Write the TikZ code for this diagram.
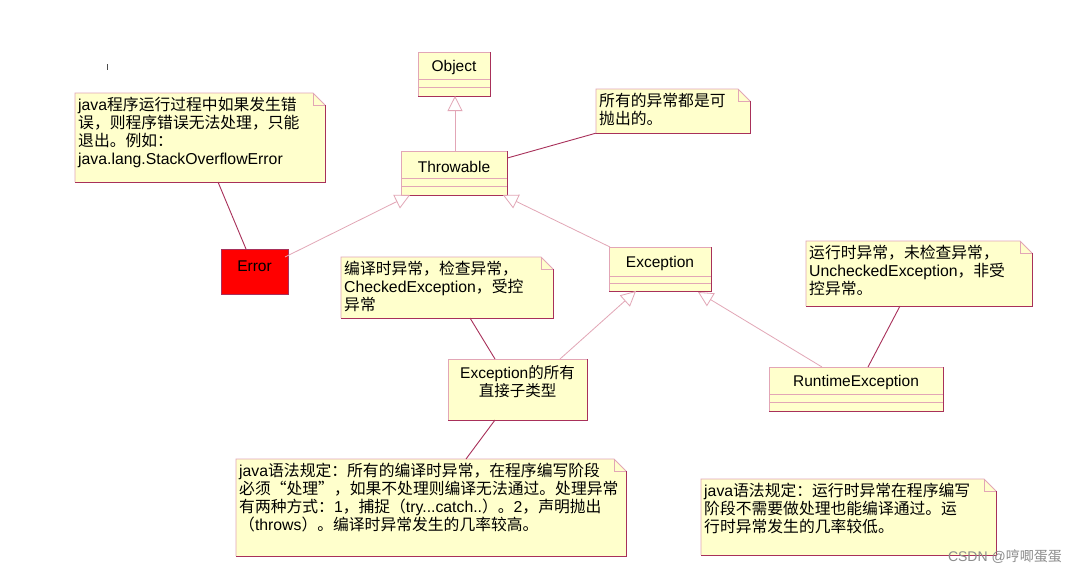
\documentclass[tikz,border=0pt]{standalone}
\usepackage{fontspec}
\setmainfont{Liberation Sans}
\newfontfamily\cjk{Noto Sans CJK SC}
\usetikzlibrary{arrows.meta,fit}
\definecolor{pk}{HTML}{E2A6B6}
\definecolor{dk}{HTML}{A8305A}
\definecolor{ye}{HTML}{FFFFCC}
\tikzset{
  boxfill/.style={fill=ye,draw=pk,line width=0.8pt},
  inh/.style={draw=pk,line width=0.8pt,-{Triangle[open,length=15pt,width=15pt,fill=white]}},
  link/.style={draw=dk,line width=0.9pt},
  txt/.style={font=\fontsize{15.8}{18}\selectfont,inner sep=0pt,align=left,anchor=north west},
}
\newcommand\umlclass[8]{%
  \node[boxfill,fit={(#2,#3) (#4,#5)},inner sep=0pt] (#1) {};
  \draw[dk,line width=0.8pt] (#2,#5) -- (#4,#5) -- (#4,#3);
  \draw[pk,line width=0.8pt] (#2,#6) -- (#4,#6);
  \draw[pk,line width=0.8pt] (#2,{(#6+#5)/2}) -- (#4,{(#6+#5)/2});
  \node[font=\fontsize{15.5}{18}\selectfont,inner sep=0pt] (#1t) at ({(#2+#4)/2},{(#3+#6)/2+2}) {#7};
}
\newcommand\umlnote[6]{%
  \node[fit={(#2,#3) (#4,#5)},inner sep=0pt] (#1) {};
  \fill[ye] (#2,#3) -- (#4-12,#3) -- (#4,#3+12) -- (#4,#5) -- (#2,#5) -- cycle;
  \draw[pk,line width=0.8pt] (#4,#3+12) -- (#4-12,#3) -- (#2,#3) -- (#2,#5);
  \draw[pk,line width=0.8pt] (#4-12,#3) -- (#4-12,#3+12) -- (#4,#3+12);
  \draw[dk,line width=0.8pt] (#2,#5) -- (#4,#5) -- (#4,#3+12);
  \node[txt] at (#2+3,#3+4) {#6};
}
\begin{document}
\begin{tikzpicture}[x=1pt,y=-1pt]
\useasboundingbox[fill=white] (0,0) rectangle (1075,576);
\draw[black!70] (107,64) -- (107,70);
% classes
\umlclass{obj}{418}{52}{490}{96}{79}{Object}{}
\umlclass{thr}{401}{151}{507}{195}{178}{Throwable}{}
\umlclass{exc}{609}{247}{711}{291}{276}{Exception}{}
\umlclass{rte}{769}{367}{943}{411}{394}{RuntimeException}{}
\node[fill=ye,draw=pk,line width=0.8pt,fit={(448,359) (587,420)},inner sep=0pt] (sub) {};
\draw[dk,line width=0.8pt] (448,420) -- (587,420) -- (587,359);
\node[font=\fontsize{15.5}{18}\selectfont,inner sep=0pt,align=center] (subt) at (517.5,382) {Exception{\cjk 的所有}\\{\cjk 直接子类型}};
\node[fill=red,draw=dk,line width=0.8pt,fit={(221,249) (288,294)},inner sep=0pt] (err) {};
\node[font=\fontsize{15.5}{18}\selectfont,inner sep=0pt] (errt) at (254.5,266) {Error};
% notes
\umlnote{n1}{75}{93}{325}{182}{java{\cjk 程序运行过程中如果发生错}\\{\cjk 误，则程序错误无法处理，只能}\\{\cjk 退出。例如：}\\java.lang.StackOverflowError}
\umlnote{n2}{596}{89}{750}{133}{{\cjk 所有的异常都是可}\\{\cjk 抛出的。}}
\umlnote{n3}{341}{257}{553}{318}{{\cjk 编译时异常，检查异常，}\\CheckedException{\cjk ，受控}\\{\cjk 异常}}
\umlnote{n4}{806}{241}{1032}{306}{{\cjk 运行时异常，未检查异常，}\\UncheckedException{\cjk ，非受}\\{\cjk 控异常。}}
\umlnote{n5}{236}{459}{626}{556}{java{\cjk 语法规定：所有的编译时异常，在程序编写阶段}\\{\cjk 必须“处理”，如果不处理则编译无法通过。处理异常}\\{\cjk 有两种方式：}1{\cjk ，捕捉（}try...catch..{\cjk ）。}2{\cjk ，声明抛出}\\{\cjk （}throws{\cjk ）。编译时异常发生的几率较高。}}
\umlnote{n6}{701}{479}{996}{555}{java{\cjk 语法规定：运行时异常在程序编写}\\{\cjk 阶段不需要做处理也能编译通过。运}\\{\cjk 行时异常发生的几率较低。}}
% inheritance
\coordinate (a1) at (455,151); \coordinate (b1) at (455,96);
\draw[inh] (a1) -- (b1);
\coordinate (a2) at (285,257); \coordinate (b2) at (410,195);
\draw[inh] (a2) -- (b2);
\coordinate (a3) at (610,247); \coordinate (b3) at (503,195);
\draw[inh] (a3) -- (b3);
\coordinate (a4) at (560,359); \coordinate (b4) at (636,291);
\draw[inh] (a4) -- (b4);
\coordinate (a5) at (822,367); \coordinate (b5) at (698,292);
\draw[inh] (a5) -- (b5);
% note links
\draw[link] (n2.south west) -- (thr.north east |- 0,158);
\draw[link] (218,182) -- (246,249);
\draw[link] (470,318) -- (495,359);
\draw[link] (900,306) -- (868,367);
\draw[link] (495,420) -- (466,459);
\node[font=\fontsize{14}{16}\selectfont,text=black!45,anchor=east,inner sep=0pt] (wm) at (1062,557) {CSDN @{\cjk 哼唧蛋蛋}};
\end{tikzpicture}
\end{document}
